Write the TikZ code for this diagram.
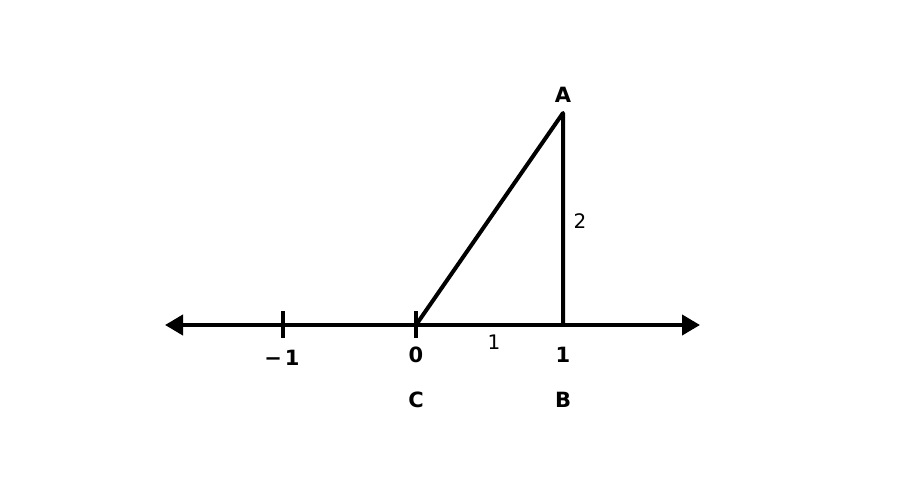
\documentclass[tikz,border=0pt]{standalone}
\usepackage{fontspec}
\setmainfont{DejaVu Sans}
\usetikzlibrary{arrows.meta}
\begin{document}
\begin{tikzpicture}[x=1pt,y=-1pt,
  thick line/.style={line width=4pt},
  boldlab/.style={font=\fontsize{21}{25}\selectfont\bfseries,inner sep=0pt,anchor=center},
  plainlab/.style={font=\fontsize{20}{24}\selectfont,inner sep=0pt,anchor=center}]
\useasboundingbox[fill=white] (0,0) rectangle (917,502);
\coordinate (L) at (165,325);
\coordinate (R) at (700,325);
\coordinate (M) at (283,325);
\coordinate (C) at (416,325);
\coordinate (B) at (563,325);
\coordinate (A) at (563,113);
\draw[thick line,{Triangle[length=18pt,width=20pt]}-{Triangle[length=18pt,width=20pt]}] (L) -- (R);
\draw[thick line] ([yshift=-13pt]M) -- ([yshift=14pt]M);
\draw[thick line] ([yshift=-13pt]C) -- ([yshift=14pt]C);
\draw[thick line,line join=round] (C) -- (A) -- (B);
\node[boldlab] (lA) at (563,95) {A};
\node[plainlab] (l2) at (580,221) {2};
\node[plainlab] (l1) at (494,342) {1};
\node[boldlab] (lm1) at (282,358) {−\kern3pt1};
\node[boldlab] (l0) at (416,355) {0};
\node[boldlab] (lp1) at (563,355) {1};
\node[boldlab] (lC) at (416,400) {C};
\node[boldlab] (lB) at (563,400) {B};
\end{tikzpicture}
\end{document}
